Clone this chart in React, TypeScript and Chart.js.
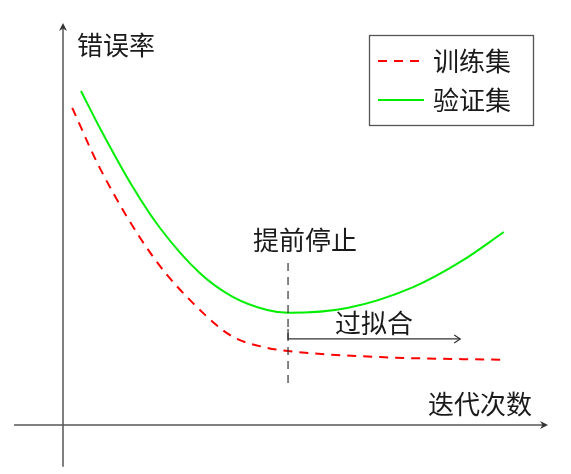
import { useEffect, useRef } from "react";
import { Chart, registerables } from "chart.js";

Chart.register(...registerables);

// Iterations (x) and error rate (y), conceptual units 0..100
const trainX = [1.9, 7.6, 18.6, 29.3, 35.1, 42.1, 46.4, 65.4, 90.9];
const trainY = [78.9, 63.9, 41.8, 27.4, 21.9, 19.2, 18.4, 16.9, 16.2];
const valX = [3.7, 7.6, 14.4, 20.0, 28.2, 35.1, 42.1, 46.4, 58.6, 72.2, 82.5, 90.9];
const valY = [83.1, 73.9, 59.2, 49.0, 37.8, 31.8, 28.6, 27.9, 29.1, 34.3, 41.0, 48.0];

const seriesNames = ["训练集", "验证集"];
const axisTitles = ["迭代次数", "错误率"];
const earlyStopLabel = "提前停止";
const overfitLabel = "过拟合";
const earlyStopX = 46.4;
const earlyStopLineY = [40.3, 9.2];
const overfitArrowY = 21.4;
const overfitArrowEndX = 81.9;
const axisStart = [-10.1, -10.4];

const FONT = '26px "Noto Sans CJK SC", sans-serif';

function arrowHead(ctx: CanvasRenderingContext2D, x: number, y: number, dir: "right" | "up") {
  ctx.save();
  ctx.translate(x, y);
  if (dir === "up") ctx.rotate(-Math.PI / 2);
  ctx.beginPath();
  ctx.moveTo(0, 0);
  ctx.lineTo(-8, -4);
  ctx.lineTo(-5.5, 0);
  ctx.lineTo(-8, 4);
  ctx.closePath();
  ctx.fill();
  ctx.restore();
}

const decorPlugin = {
  id: "decor",
  afterDatasetsDraw(chart: any) {
    const ctx: CanvasRenderingContext2D = chart.ctx;
    const xs = chart.scales.x;
    const ys = chart.scales.y;
    const px = (v: number) => xs.getPixelForValue(v);
    const py = (v: number) => ys.getPixelForValue(v);
    ctx.save();

    // axes
    ctx.strokeStyle = "#555";
    ctx.fillStyle = "#333";
    ctx.lineWidth = 1.5;
    ctx.setLineDash([]);
    ctx.beginPath();
    ctx.moveTo(px(axisStart[0]), py(0));
    ctx.lineTo(px(100) - 2, py(0));
    ctx.moveTo(px(0), py(axisStart[1]));
    ctx.lineTo(px(0), py(100) + 2);
    ctx.stroke();
    arrowHead(ctx, px(100), py(0), "right");
    arrowHead(ctx, px(0), py(100), "up");

    // early stop dashed line
    ctx.strokeStyle = "#333";
    ctx.lineWidth = 1.2;
    ctx.setLineDash([8, 6]);
    ctx.beginPath();
    ctx.moveTo(px(earlyStopX), py(earlyStopLineY[0]));
    ctx.lineTo(px(earlyStopX), py(earlyStopLineY[1]));
    ctx.stroke();

    // overfit arrow
    ctx.setLineDash([]);
    ctx.lineWidth = 1.2;
    ctx.beginPath();
    ctx.moveTo(px(earlyStopX), py(overfitArrowY) - 10);
    ctx.lineTo(px(earlyStopX), py(overfitArrowY));
    ctx.lineTo(px(overfitArrowEndX), py(overfitArrowY));
    ctx.stroke();
    ctx.beginPath();
    ctx.moveTo(px(overfitArrowEndX) - 6, py(overfitArrowY) - 4);
    ctx.lineTo(px(overfitArrowEndX), py(overfitArrowY));
    ctx.lineTo(px(overfitArrowEndX) - 6, py(overfitArrowY) + 4);
    ctx.stroke();

    // texts
    ctx.fillStyle = "#1a1a1a";
    ctx.font = FONT;
    ctx.textAlign = "center";
    ctx.textBaseline = "middle";
    ctx.fillText(axisTitles[1], 116, 45);
    ctx.fillText(axisTitles[0], 480, 404);
    ctx.fillText(earlyStopLabel, px(earlyStopX) + 17, 240);
    ctx.fillText(overfitLabel, 374, 323);

    // legend box
    ctx.strokeStyle = "#555";
    ctx.lineWidth = 1.3;
    ctx.strokeRect(369.5, 35.5, 164, 90);
    const rows = [61, 100];
    chart.data.datasets.forEach((ds: any, i: number) => {
      ctx.strokeStyle = ds.borderColor;
      ctx.lineWidth = ds.borderWidth;
      ctx.setLineDash(ds.borderDash || []);
      ctx.beginPath();
      ctx.moveTo(378, rows[i]);
      ctx.lineTo(424, rows[i]);
      ctx.stroke();
      ctx.setLineDash([]);
      ctx.fillStyle = "#1a1a1a";
      ctx.textAlign = "left";
      ctx.fillText(ds.label, 433, rows[i]);
    });
    ctx.restore();
  },
};

export default function App() {
  const ref = useRef<HTMLCanvasElement | null>(null);
  useEffect(() => {
    if (!ref.current) return;
    const chart = new Chart(ref.current, {
      type: "line",
      data: {
        datasets: [
          {
            label: seriesNames[0],
            data: trainX.map((x, i) => ({ x, y: trainY[i] })),
            borderColor: "#ff0000",
            borderWidth: 2,
            borderDash: [9, 7],
            pointRadius: 0,
            cubicInterpolationMode: "monotone",
            fill: false,
          },
          {
            label: seriesNames[1],
            data: valX.map((x, i) => ({ x, y: valY[i] })),
            borderColor: "#00ee00",
            borderWidth: 2,
            pointRadius: 0,
            cubicInterpolationMode: "monotone",
            fill: false,
          },
        ],
      },
      options: {
        responsive: false,
        animation: false,
        devicePixelRatio: 1,
        layout: { padding: { left: 63, right: 23, top: 23, bottom: 49 } },
        scales: {
          x: { type: "linear", min: 0, max: 100, display: false },
          y: { type: "linear", min: 0, max: 100, display: false },
        },
        plugins: { legend: { display: false }, tooltip: { enabled: false } },
      },
      plugins: [decorPlugin],
    } as any);
    return () => chart.destroy();
  }, []);
  return (
    <div style={{ position: "fixed", left: 0, top: 0, width: 571, height: 474, background: "#fff" }}>
      <canvas ref={ref} width={571} height={474} />
    </div>
  );
}
